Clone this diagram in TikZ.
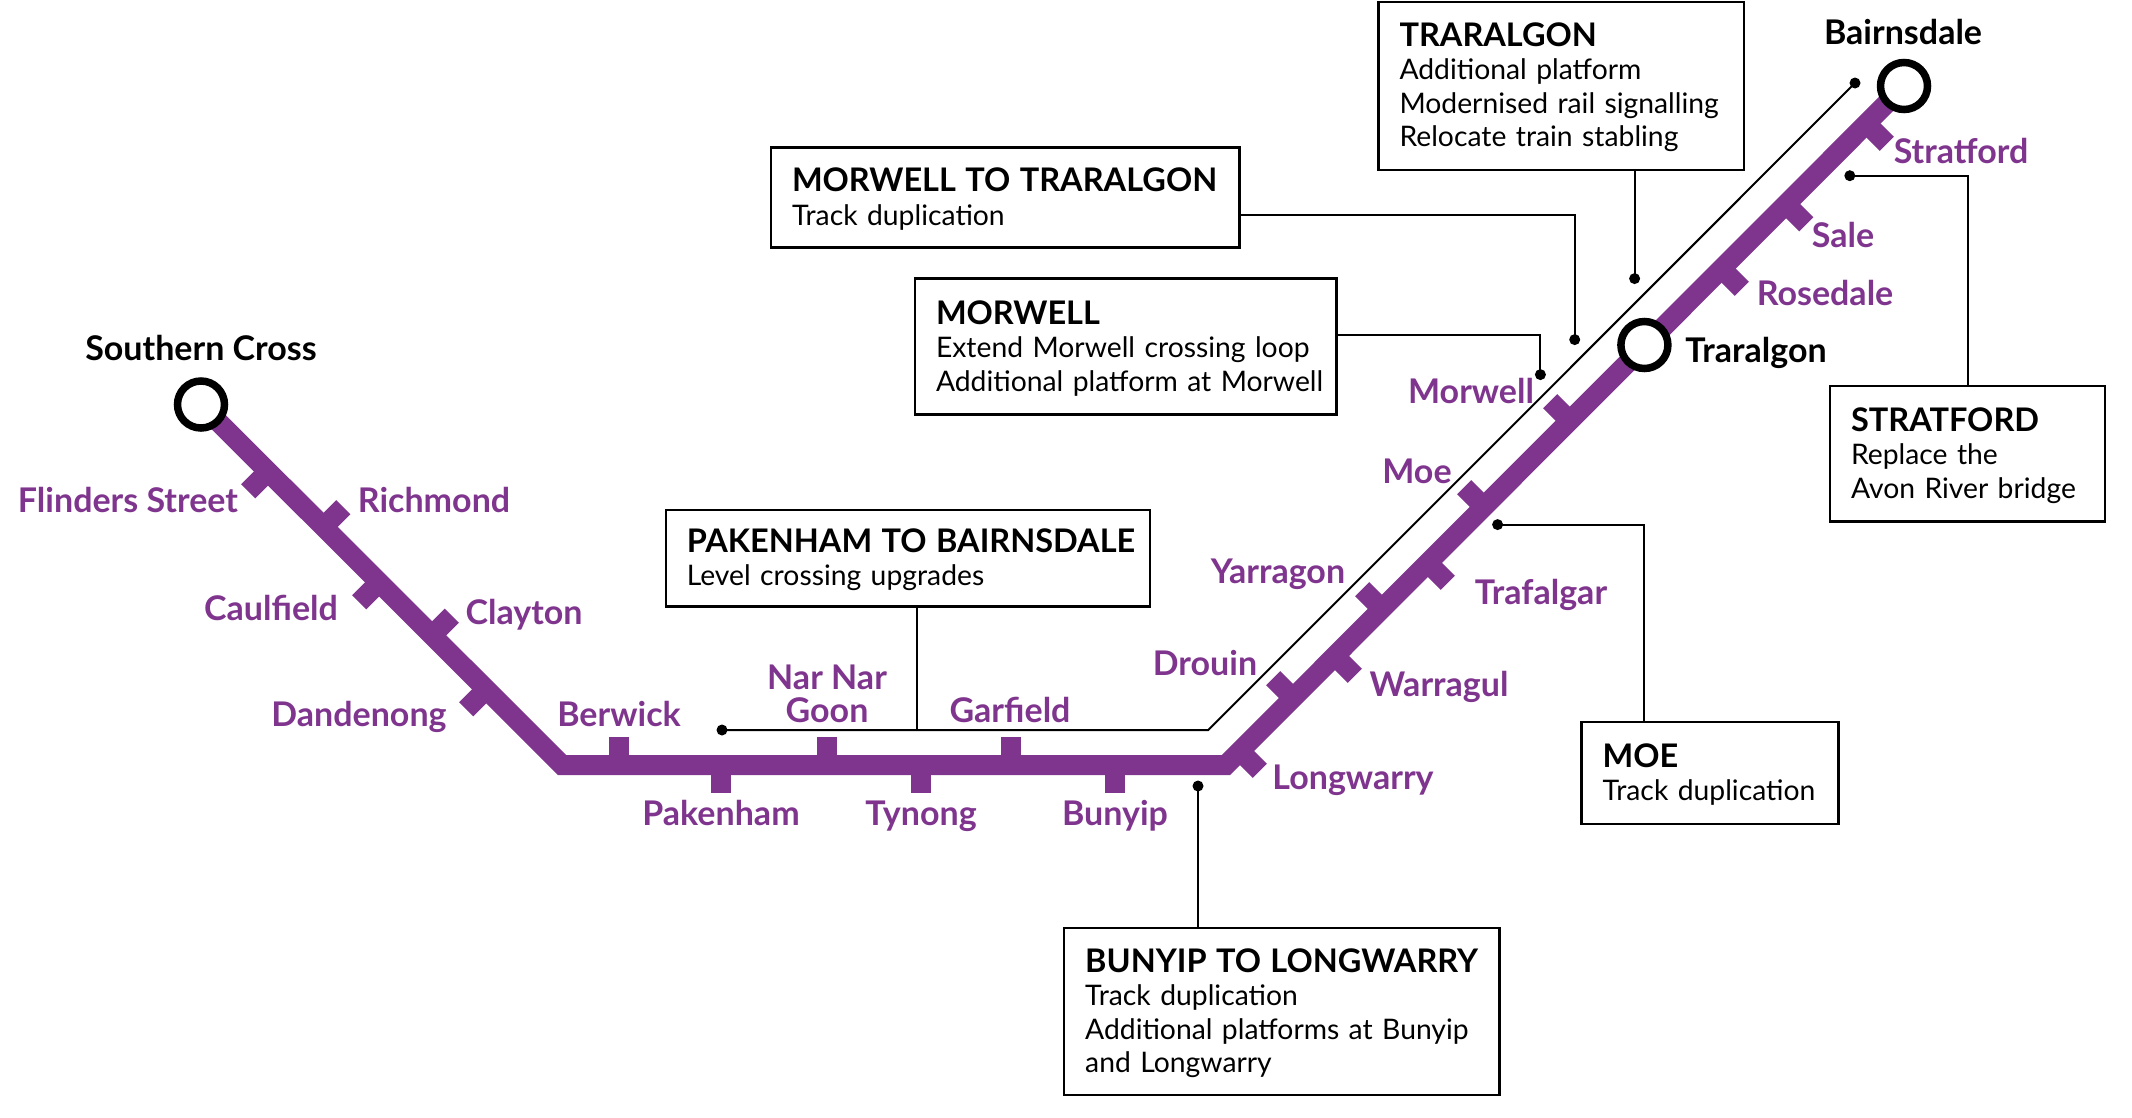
\documentclass[tikz,border=0pt]{standalone}
\usepackage{fontspec}
\setmainfont{Lato}
\definecolor{trackpurple}{RGB}{127,53,142}
\tikzset{
	track/.style = {draw=trackpurple, line width=20pt, line join=miter},
	tick/.style = {draw=trackpurple, line width=20pt},
	terminal/.style = {circle, draw=black, fill=white, line width=7.5pt, minimum size=47pt, inner sep=0pt},
	station/.style = {text=trackpurple, font=\fontsize{34}{33}\selectfont\bfseries, align=center, inner sep=0pt, text depth=0pt, text height=24.5pt},
	hub/.style = {text=black, font=\fontsize{34}{33}\selectfont\bfseries, inner sep=0pt, text depth=0pt, text height=24.5pt},
	infobox/.style 2 args = {draw=black, line width=2.5pt, fill=white, anchor=north west, align=left, outer sep=0pt,
		inner sep=0pt, text width=#1pt, minimum height=#2pt, execute at begin node={\leftskip=21pt},
		font=\fontsize{28.3}{33.5}\selectfont},
	dot/.style = {circle, fill=black, minimum size=11pt, inner sep=0pt},
	line/.style = {draw=black, line width=2pt}
}
\newcommand{\boxtitle}[1]{\rule{0pt}{27pt}{\fontsize{32.5}{33.5}\selectfont\bfseries #1}}

\begin{document}
\begin{tikzpicture}[x=1pt, y=-1pt]
		\useasboundingbox (0,0) rectangle (2132,1117);

		%track and ticks
		\coordinate (scpos) at (201,404.5);
		\coordinate (trpos) at (1644.4,345);
		\coordinate (bapos) at (1904,86);
		\path [track] (scpos) -- (562,765) -- (1226,765) -- (bapos);
		\foreach \x in {268,379,486} \path [tick] (\x,\x+203.5) -- ++(-19.8,19.8);
		\foreach \x in {323.5,432} \path [tick] (\x,\x+203.5) -- ++(19.8,-19.8);
		\foreach \x in {618.5,826.6,1010.8} \path [tick] (\x,765) -- ++(0,-28);
		\foreach \x in {721,921,1115.3} \path [tick] (\x,765) -- ++(0,28);
		\foreach \x in {1293,1382,1484,1570} \path [tick] (\x,1991-\x) -- ++(-19.8,-19.8);
		\foreach \x in {1240,1335,1428,1722,1786.5,1867} \path [tick] (\x,1991-\x) -- ++(19.8,19.8);

		%terminals
		\node (southerncross) [terminal] at (scpos) {};
		\node (traralgon) [terminal] at (trpos) {};
		\node (bairnsdale) [terminal] at (bapos) {};
		\node (southerncrosslabel) [hub] at (201,348) {Southern Cross};
		\node (traralgonlabel) [hub] at (1756,350) {Traralgon};
		\node (bairnsdalelabel) [hub] at (1903,32) {Bairnsdale};

		%stations
		\node (flinders) [station] at (128,500) {Flinders Street};
		\node (richmond) [station] at (434,500) {Richmond};
		\node (caulfield) [station] at (271,608) {Caulfield};
		\node (clayton) [station] at (524,612) {Clayton};
		\node (dandenong) [station] at (359,714) {Dandenong};
		\node (berwick) [station] at (619,714) {Berwick};
		\node (narnar) [station] at (827,710) {Nar Nar\\Goon};
		\node (pakenham) [station] at (721,813) {Pakenham};
		\node (tynong) [station] at (921,813) {Tynong};
		\node (garfield) [station] at (1010,710) {Garfield};
		\node (bunyip) [station] at (1115,813) {Bunyip};
		\node (longwarry) [station] at (1353,777) {Longwarry};
		\node (drouin) [station] at (1205,663) {Drouin};
		\node (warragul) [station] at (1439,684) {Warragul};
		\node (yarragon) [station] at (1278,571) {Yarragon};
		\node (trafalgar) [station] at (1541,592) {Trafalgar};
		\node (moe) [station] at (1417,471) {Moe};
		\node (morwell) [station] at (1471,391) {Morwell};
		\node (rosedale) [station] at (1825,293) {Rosedale};
		\node (sale) [station] at (1843,235) {Sale};
		\node (stratford) [station] at (1961,151) {Stratford};

		%boxes
		\node (boxtraralgon) [infobox={365.4}{168}] at (1378.5,1.8) {\boxtitle{TRARALGON}\\Additional platform\\Modernised rail signalling\\Relocate train stabling};
		\node (boxmtot) [infobox={468.6}{100}] at (771,147.5) {\boxtitle{MORWELL TO TRARALGON}\\Track duplication};
		\node (boxmorwell) [infobox={421.3}{135.7}] at (915,278.6) {\boxtitle{MORWELL}\\Extend Morwell crossing loop\\Additional platform at Morwell};
		\node (boxstratford) [infobox={275}{135.4}] at (1830,386) {\boxtitle{STRATFORD}\\Replace the\\Avon River bridge};
		\node (boxpakenham) [infobox={484}{96.5}] at (665.8,509.8) {\boxtitle{PAKENHAM TO BAIRNSDALE}\\Level crossing upgrades};
		\node (boxmoe) [infobox={257}{102}] at (1581.7,722) {\boxtitle{MOE}\\Track duplication};
		\node (boxbunyip) [infobox={435.1}{166.8}] at (1064.2,928.2) {\boxtitle{BUNYIP TO LONGWARRY}\\Track duplication\\Additional platforms at Bunyip\\and Longwarry};

		%dots
		\node (dotpakenham) [dot] at (722,730) {};
		\node (dotbairnsdale) [dot] at (1855,83) {};
		\node (dotbunyip) [dot] at (1198,786) {};
		\node (dottraralgon) [dot] at (1634.6,278.6) {};
		\node (dotmtot) [dot] at (1574.7,339.6) {};
		\node (dotmorwell) [dot] at (1540.4,374.6) {};
		\node (dotstratford) [dot] at (1849.8,175.7) {};
		\node (dotmoe) [dot] at (1497.6,524.6) {};
		\coordinate (bend) at (1208.3,730);
		\coordinate (pakenhamjoin) at (916.7,730);

		%leaders
		\path [line] (dotpakenham.center) -- (bend) -- (dotbairnsdale.center);
		\path [line] (boxpakenham.south -| pakenhamjoin) -- (pakenhamjoin);
		\path [line] (boxbunyip.north -| dotbunyip) -- (dotbunyip.center);
		\path [line] (boxtraralgon.south -| dottraralgon) -- (dottraralgon.center);
		\path [line] (boxmtot.east |- 1574.7,214.6) -| (dotmtot.center);
		\path [line] (boxmorwell.east |- 1540.4,334.6) -| (dotmorwell.center);
		\path [line] (dotstratford.center) -| (boxstratford.north -| 1967.7,386);
		\path [line] (dotmoe.center) -| (boxmoe.north -| 1644.4,722);
		\end{tikzpicture}
\end{document}
